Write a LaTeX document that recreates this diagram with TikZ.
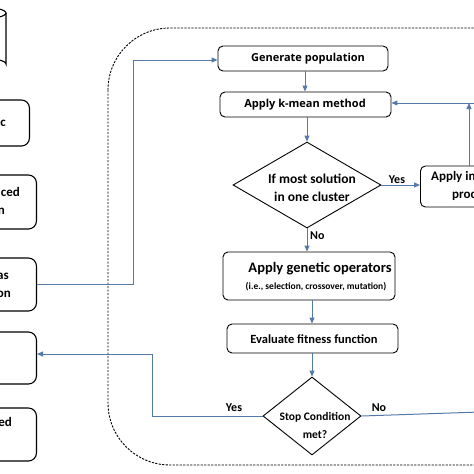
\documentclass[tikz,border=0pt]{standalone}
\usepackage{fontspec}
\setmainfont{Carlito}
\newfontfamily\wideface{Open Sans}
\usetikzlibrary{shapes.geometric,arrows.meta}
\definecolor{conn}{RGB}{84,122,170}
\tikzset{
  box/.style={draw=black,line width=1.1pt,rounded corners=8pt,fill=white},
  fbox/.style={draw=black,line width=0.9pt,rounded corners=5pt,fill=white,inner sep=0pt},
  dia/.style={draw=black,line width=0.9pt,diamond,inner sep=0pt,fill=white},
  txt/.style={font=\bfseries\fontsize{12}{14}\selectfont,align=center,inner sep=0pt},
  wtxt/.style={font=\wideface\bfseries\fontsize{11}{14}\selectfont,align=center,inner sep=0pt},
  ltxt/.style={font=\bfseries\fontsize{13}{15}\selectfont,inner sep=0pt},
  lbl/.style={font=\bfseries\fontsize{12}{14}\selectfont,inner sep=0pt},
  conn/.style={draw=conn,line width=1pt},
  arr/.style={conn,-{Triangle[length=6pt,width=5pt]}},
}
\begin{document}
\begin{tikzpicture}[x=1pt,y=-1pt]
\useasboundingbox (0,0) rectangle (474,474);
\clip (0,0) rectangle (474,474);
\fill[white] (0,0) rectangle (474,474);
% dashed region
\draw[black,line width=0.9pt,dash pattern=on 2.2pt off 1.3pt,rounded corners=62pt] (108,28) rectangle (560,465);
% cylinder (left, cropped)
\draw[black,line width=1.1pt,fill=white] (-46,13) -- (-46,64) arc[start angle=180,end angle=360,x radius=26,y radius=6] -- (6,13);
\draw[black,line width=1.1pt] (-20,13) ellipse[x radius=26,y radius=6];
% left boxes
\node[box,minimum width=130pt,minimum height=46pt,anchor=east] (b2) at (30,123) {};
\node[box,minimum width=137pt,minimum height=54pt,anchor=east] (b3) at (37,202) {};
\node[box,minimum width=137pt,minimum height=53pt,anchor=east] (b4) at (37,284.5) {};
\node[box,minimum width=137pt,minimum height=52pt,anchor=east] (b5) at (37,358) {};
\node[box,minimum width=137pt,minimum height=53pt,anchor=east] (b6) at (37,434.5) {};
\node[ltxt,anchor=east] (t2) at (6,123) {c};
\node[ltxt,anchor=east] (t3a) at (20,192) {ced};
\node[ltxt,anchor=east] (t3b) at (5,211) {n};
\node[ltxt,anchor=east] (t4a) at (9,276) {as};
\node[ltxt,anchor=east] (t4b) at (11,294) {on};
\node[ltxt,anchor=east] (t6) at (12,422) {ed};
% flowchart
\node[fbox,minimum width=170pt,minimum height=25pt] (gen) at (303,58.5) {};
\node[wtxt] at (308,59) {Generate population};
\node[fbox,minimum width=171pt,minimum height=25pt] (km) at (305.5,104.5) {};
\node[wtxt] at (305,105) {Apply k-mean method};
\node[dia,minimum width=148pt,minimum height=86pt] (d1) at (307,185) {};
\node[txt,font=\bfseries\fontsize{13.5}{18}\selectfont] at (312,188) {If most solution\\in one cluster};
\node[fbox,minimum width=100pt,minimum height=41pt,anchor=west] (ap) at (420,186.5) {};
\node[txt,font=\bfseries\fontsize{13}{15}\selectfont,anchor=west] (apt1) at (431,177) {Apply intensive};
\node[txt,font=\bfseries\fontsize{13}{15}\selectfont,anchor=west] (apt2) at (452,196) {process};
\node[fbox,minimum width=172pt,minimum height=48pt] (gop) at (309,276) {};
\node[txt,font=\bfseries\fontsize{14.5}{16}\selectfont] at (320,269) {Apply genetic operators};
\node[txt,font=\bfseries\fontsize{9.5}{11}\selectfont] at (316,287) {(i.e., selection, crossover, mutation)};
\node[fbox,minimum width=171pt,minimum height=29pt] (ev) at (312.5,338.5) {};
\node[txt,font=\bfseries\fontsize{12.5}{14}\selectfont] at (314,339) {Evaluate fitness function};
\node[dia,minimum width=98pt,minimum height=78pt] (d2) at (312,416) {};
\node[txt,font=\bfseries\fontsize{11.5}{18}\selectfont] at (315,425) {Stop Condition\\met?};
\coordinate (rk) at (480,103);
\coordinate (ru) at (469,103);
\coordinate (rno) at (480,412);
% connectors
\draw[arr] (b4.east) -| (133,60) -- (gen.west |- 0,60);
\draw[arr] (gen.south -| 305,0) -- (km.north -| 305,0);
\draw[arr] (km.south -| 307,0) -- (d1.north);
\draw[arr] (d1.south) -- (gop.north -| d1.south);
\node[lbl,anchor=west] at (310,236) {No};
\draw[arr] (d1.east) -- (ap.west |- d1.east);
\node[lbl] at (397,180) {Yes};
\draw[arr] (ap.north -| ru) -- (ru);
\draw[arr] (rk) -- (km.east |- rk);
\draw[arr] (gop.south -| 312,0) -- (ev.north -| 312,0);
\draw[arr] (ev.south -| 312,0) -- (d2.north);
\draw[arr] (d2.west) -| (152,354) -- (b5.east |- 0,354);
\node[lbl] at (234,408) {Yes};
\draw[conn] (d2.east) -- (rno);
\node[lbl] at (379,408) {No};
\end{tikzpicture}
\end{document}
